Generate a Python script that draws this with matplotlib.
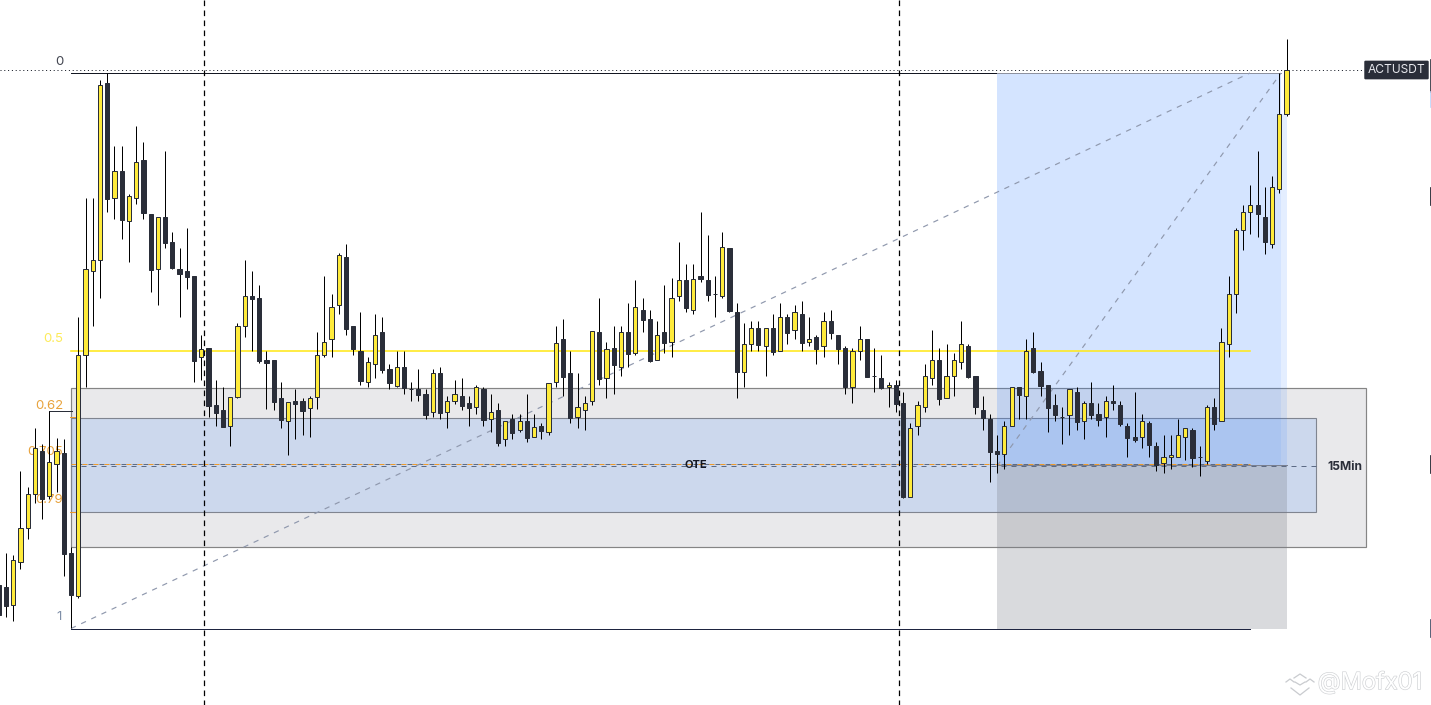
import matplotlib
matplotlib.use("Agg")
import matplotlib.pyplot as plt
import matplotlib.patheffects as pe
from matplotlib.patches import Rectangle
import numpy as np

# Vertical scale: chart units (larger = lower on the chart; price axis is not shown)
body_top = [585,587,560,528,494,448,451,462,451,453,553,355,269,260,85,83,171,171,196,162,160,214,217,217,242,269,271,276,349,348,
405,410,397,326,296,296,298,360,360,398,402,401,401,398,355,342,307,255,257,326,351,362,335,332,369,367,367,389,389,394,
373,373,401,394,396,403,387,389,412,410,421,419,421,421,427,426,383,343,339,373,407,403,331,332,349,348,332,332,307,310,
319,335,332,298,280,280,279,276,280,294,247,248,312,344,328,328,328,328,317,317,312,314,339,337,321,321,335,348,351,339,
339,376,378,385,385,403,428,405,376,360,360,376,360,344,346,376,410,419,451,426,387,387,351,348,371,385,405,417,389,392,
403,403,414,401,401,405,426,437,421,423,446,457,455,435,428,430,457,407,407,342,294,230,212,205,205,217,187,114,70]
body_bot = [615,606,605,562,528,494,499,496,464,554,595,596,355,271,260,199,198,220,221,198,213,270,269,243,268,274,277,361,357,406,
413,427,426,397,326,299,361,363,402,420,421,404,411,408,397,355,339,305,329,349,381,382,364,370,383,386,388,389,395,415,
412,413,412,401,406,408,407,420,419,443,439,433,430,438,437,431,432,382,377,418,417,410,401,379,378,365,367,354,353,320,
361,360,343,342,296,308,310,279,295,294,296,311,372,372,344,345,346,352,351,333,330,343,342,349,346,333,349,387,387,351,
377,376,388,387,404,497,497,426,407,378,399,398,376,362,377,407,418,452,454,454,426,395,396,372,386,408,415,417,415,422,
421,415,420,417,403,424,438,440,437,445,465,463,457,457,437,458,457,461,424,421,344,294,230,212,214,242,244,189,114]
wick_high = [580,553,555,471,487,428,444,411,438,439,547,317,198,198,80,73,146,146,194,126,142,214,217,151,232,248,228,276,335,348,
380,387,397,323,260,271,285,351,360,382,402,389,398,396,332,276,294,253,244,326,312,357,314,317,364,351,351,382,369,389,
369,367,396,380,378,396,385,387,394,403,421,414,414,394,414,423,383,326,319,351,373,396,331,298,342,326,326,303,280,298,
310,321,285,278,242,264,264,212,235,276,232,248,303,323,321,321,328,314,303,314,305,301,317,335,312,310,335,346,348,326,
339,348,355,382,380,392,423,401,364,330,348,344,353,321,344,376,396,414,435,421,387,387,339,332,362,385,394,407,389,387,
401,382,403,396,385,401,423,392,414,421,442,435,435,419,428,428,446,405,398,328,276,228,205,185,151,187,176,73,39]
wick_low = [637,617,621,569,539,503,519,499,492,576,628,598,387,326,298,212,219,239,262,204,219,292,305,248,269,317,289,382,380,417,
426,427,446,398,337,351,363,409,410,428,455,439,435,437,409,357,357,314,335,355,385,387,378,373,389,387,394,401,401,419,
417,419,428,404,410,426,414,426,432,446,446,439,432,442,437,439,435,387,396,423,428,430,405,385,398,394,376,367,355,332,
362,360,353,357,301,312,314,282,301,317,298,312,398,387,351,351,376,355,351,344,339,351,346,364,357,339,364,394,403,360,
377,392,389,407,412,498,497,435,412,385,405,398,396,369,378,414,430,482,473,469,426,419,419,373,396,432,421,444,435,430,
439,419,426,437,410,426,457,442,448,457,471,473,469,457,460,467,476,464,430,421,357,313,250,234,237,254,248,193,116]
is_up = [0,0,1,1,1,1,0,1,1,0,0,1,1,1,1,0,1,0,1,1,0,0,1,0,0,0,0,0,1,0,
0,0,1,1,1,0,0,0,0,0,1,0,0,1,1,1,1,1,0,0,0,1,1,0,0,1,0,0,0,0,
1,0,1,1,0,0,1,0,1,0,1,0,1,0,1,0,1,1,0,0,1,1,1,0,1,0,1,0,1,0,
0,1,0,1,1,0,1,0,0,0,1,0,0,1,1,0,1,0,1,0,1,0,1,0,1,0,0,0,1,1,
0,0,0,1,0,0,1,1,1,1,0,1,1,1,0,0,0,0,0,1,1,0,1,0,0,0,0,0,1,0,
1,0,0,1,0,0,0,0,1,0,0,1,1,1,1,0,0,1,0,1,1,1,1,1,0,0,1,1,1]

# Fibonacci levels
fib_labels = ["0", "0.5", "0.62", "0.705", "0.79", "1"]
fib_values = [0, 0.5, 0.62, 0.705, 0.79, 1]
fib_colors = ["#131722", "#ffe81a", "#e8a33d", "#e8a33d", "#e8a33d", "#1e2440"]
label_colors = ["#434651", "#fdeb5a", "#e8a33d", "#e8a33d", "#e8a33d", "#7f8fa8"]
session_lines = [28.4, 124.45]   # candle-index positions of the two vertical lines

DARK, YEL = "#2a2e39", "#ffeb3b"
W, H = 1431, 705
fig = plt.figure(figsize=(W/100, H/100), dpi=100)
ax = fig.add_axes([0, 0, 1, 1])
# x in candle index, y in chart units
step = 7.235; x0 = 78.3 - 11*step
ax.set_xlim(-x0/step, (W - x0)/step)
ax.set_ylim(H, 0)
ax.axis("off")
px = lambda p: (p - x0)/step

top, bot = 73, 628.5
lvl = lambda f: top + f*(bot-top)
plt.rcParams['font.family'] = ['Inter', 'DejaVu Sans']
THIN = 0.72

# zones
def rect(x1, x2, y1, y2, **k):
    ax.add_patch(Rectangle((px(x1), y1), px(x2)-px(x1), y2-y1, **k))
rect(71, 1366, 387.5, 546.5, fc=(120/255,123/255,134/255,.16), ec="#858585", lw=.85, zorder=1)
rect(71, 1315.7, 417.5, 511.5, fc=(41/255,121/255,1,.15), ec="#808590", lw=.8, zorder=1.1)
rect(997, 1281, lvl(0), 465, fc=(41/255,121/255,1,.2), ec="none", zorder=1.2)
rect(1281, 1287, lvl(0)+41, 465, fc=(41/255,121/255,1,.12), ec="none", zorder=1.2)
rect(997, 1287, 465, bot, fc=(120/255,123/255,134/255,.28), ec="none", zorder=1.2)

# fib lines
xs, xe = px(71), px(1250)
ax.plot([xs, xe], [lvl(0)]*2, color=fib_colors[0], lw=THIN, zorder=1.5)
ax.plot([px(997), px(1281)], [lvl(0)]*2, color="#8f93a0", lw=THIN, zorder=1.6)
ax.plot([xs, xe], [lvl(1)]*2, color=fib_colors[5], lw=THIN, zorder=1.5)
ax.plot([xs, xe], [lvl(.5)]*2, color=fib_colors[1], lw=1.15, zorder=1.5)
ax.plot([px(997), px(1287)], [465]*2, color="#7a8090", lw=THIN, zorder=1.55)
ax.plot([xs, xe], [464.2]*2, color="#5d6b85", lw=THIN, ls=(5,(5,6)), zorder=1.58)
ax.plot([xs, xe], [464.2]*2, color="#ee9a2a", lw=THIN, ls=(0,(5,6)), zorder=1.6)
ax.plot([xs, px(1319)], [466.3]*2, color="#5d6b85", lw=THIN, ls=(0,(5,5)), zorder=1.6)
for f in (.62, .79):
    ax.plot([px(70), px(77)], [lvl(f)]*2, color="#ee9a2a", lw=THIN, zorder=1.6)
ax.plot([px(49), px(72)], [410.5]*2, color="#2a2e39", lw=THIN, zorder=1.6)

# diagonals
ax.plot([xs, xe], [lvl(1), lvl(0)], color="#8f98ad", lw=.85, ls=(0,(4.5,5)), zorder=1.7)
ax.plot([px(997), px(1281)], [466, lvl(0)], color="#8f98ad", lw=.85, ls=(0,(4.5,5)), zorder=1.7)

# dotted last price line
ax.plot([px(0), px(1364)], [69.7]*2, color="#131722", lw=THIN, ls=(0,(1,2.8)), zorder=3)
# session lines
for s in session_lines:
    ax.plot([s, s], [0, H], color="#000000", lw=.9, ls=(0,(4.5,3.5)), zorder=4)

# fib labels
pos = [(59, 62), (53, 339), (49, 406), (45, 452), (49, 500), (59, 617)]
for t, c, (x, y) in zip(fib_labels, label_colors, pos):
    ax.text(px(x), y, t, color=c, fontsize=9.5, ha="center", va="center", zorder=1.9, family=["Inter","DejaVu Sans"])

# candles
n = len(body_top)
idx = np.arange(n)
for i in idx:
    col = YEL if is_up[i] else DARK
    ax.plot([i, i], [wick_high[i], wick_low[i]], color="#000000", lw=THIN, zorder=5, solid_capstyle="butt")
    bh = body_bot[i]-body_top[i]
    if bh < 1:
        ax.plot([i-.3, i+.3], [body_top[i]]*2, color=DARK, lw=THIN, zorder=6, solid_capstyle="butt")
    else:
        ax.add_patch(Rectangle((i-.29, body_top[i]), .58, bh, fc=col, ec=DARK, lw=THIN, zorder=6))

# labels
ax.text(px(696), 465.5, "OTE", fontsize=8, fontweight="bold", color="#131722", ha="center", va="center", zorder=3)
ax.text(px(1344.5), 467, "15Min", fontsize=8.7, fontweight="bold", color="#2a2e39", ha="center", va="center", zorder=3)
ax.text(px(1396.5), 70, "ACTUSDT", fontsize=8.6, color="#e8e9ee", ha="center", va="center", zorder=8,
        bbox=dict(boxstyle="round,pad=0.28,rounding_size=0.1", fc="#2a2e39", ec="none"))

# right edge ticks
for y1, y2, c in [(60, 92, "#2a2e39"), (188, 205, "#131722"), (456, 473, "#131722"), (620, 637, "#3a4560")]:
    ax.plot([px(1430.5)]*2, [y1, y2], color=c, lw=1.2, zorder=8)
ax.plot([px(1430.5)]*2, [92, 107], color="#bcd6fb", lw=1.2, zorder=8)

# watermark
ax.text(px(1370), 683, "@Mofx01", fontsize=17, color="#ffffff", ha="center", va="center", zorder=8,
        path_effects=[pe.withStroke(linewidth=.9, foreground="#cfd1d4")])
logo = [[(1294,678),(1300,674),(1306,678)], [(1286,682),(1290,679),(1294,682)], [(1306,682),(1310,679),(1314,682)],
        [(1295,682),(1300,685),(1305,682)], [(1291,688),(1300,695),(1309,688)]]
for seg in logo:
    ax.plot([px(p[0]) for p in seg], [p[1] for p in seg], color="#c9cbcf", lw=.9, zorder=8)

fig.savefig("out.png", dpi=100, facecolor="white")
